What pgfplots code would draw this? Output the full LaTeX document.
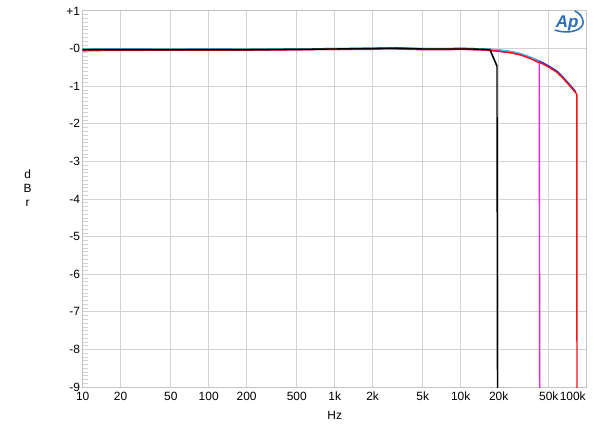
\documentclass[border=0pt]{standalone}
\usepackage{pgfplots}
\pgfplotsset{compat=1.18}
\usepackage{fontspec}
\setmainfont{Liberation Sans}
\definecolor{gridgray}{HTML}{D2D2D2}
\definecolor{framegray}{HTML}{C4C4C4}
\definecolor{apblue}{HTML}{2A6DB5}
\definecolor{cgreen}{HTML}{1E9E3C}
\definecolor{ccyan}{HTML}{22D8E8}
\definecolor{cblue}{HTML}{1A2BE0}
\definecolor{cmag}{HTML}{F020E8}
\definecolor{cred}{HTML}{FF1010}
\begin{document}
\fontsize{12}{14}\selectfont
\begin{tikzpicture}[x=1bp,y=1bp]
\useasboundingbox (-82.7,-41) rectangle (517.3,387);
\begin{axis}[
  at={(0,0)}, anchor=south west,
  scale only axis, width=504bp, height=376bp,
  xmode=log, xmin=10, xmax=100000,
  ymin=-9, ymax=1,
  xtick={10,20,50,100,200,500,1000,2000,5000,10000,20000,50000,100000},
  xticklabels={10,20,50,100,200,500,1k,2k,5k,10k,20k,50k,{100k\hspace*{28bp}}},
  ytick={-9,-8,-7,-6,-5,-4,-3,-2,-1,0,1},
  yticklabels={-9,-8,-7,-6,-5,-4,-3,-2,-1,-0,+1},
  minor y tick num=9,
  ytick pos=left,
  x tick style={draw=none},
  major y tick style={draw=none},
  minor y tick style={draw=gridgray, line width=0.6bp},
  minor tick length=5bp,
  xmajorgrids=true, xminorgrids=true, ymajorgrids=true,
  major grid style={draw=gridgray, line width=1bp},
  minor grid style={draw=gridgray, line width=1bp},
  axis line style={draw=framegray, line width=1bp},
  tick label style={font=\fontsize{12}{14}\selectfont},
  /pgf/number format/assume math mode=true,
  xticklabel style={yshift=-1bp},
  yticklabel style={xshift=1.5bp},
  xlabel={Hz},
  xlabel style={at={(axis description cs:0.5,0)}, anchor=center, yshift=-28bp, font=\fontsize{12}{14}\selectfont},
  ylabel={d\\B\\r},
  ylabel style={at={(axis description cs:0,0.5)}, rotate=-90, anchor=center, align=center, xshift=-55bp, yshift=11bp, font=\fontsize{12}{14}\selectfont},
  every axis plot/.append style={line width=1.4bp, line join=round},
]
% blue
\addplot[cblue] coordinates {
(10,-0.02) (15,-0.01) (20,-0.01) (50,-0.02) (100,-0.01) (200,-0.02) (500,-0.01) (1000,0.0)
(2000,0.01) (2500,0.02) (3000,0.02) (5000,0.0) (8000,0.0) (10000,0.01) (12000,0.0) (15000,-0.01)
(17000,-0.02) (20000,-0.04) (25000,-0.08) (30000,-0.14) (35000,-0.22) (40000,-0.30) (45000,-0.38)
(51000,-0.48) (58000,-0.60) (64500,-0.75) (72000,-0.93) (82000,-1.15)};
% cyan
\addplot[ccyan] coordinates {
(10,-0.02) (20,-0.02) (50,-0.02) (100,-0.02) (200,-0.02) (500,-0.01) (1000,0.0)
(2000,0.01) (2500,0.02) (3000,0.01) (5000,0.0) (8000,-0.01) (10000,0.0) (12000,0.0) (15000,-0.01)
(17000,-0.02) (20000,-0.035) (25000,-0.08) (30000,-0.14) (35000,-0.22) (40000,-0.31) (42000,-0.35)};
% green
\addplot[cgreen] coordinates {
(10,-0.02) (15,-0.02) (20,-0.02) (50,-0.02) (100,-0.02) (200,-0.02) (500,-0.02) (1000,-0.01)
(2000,0.0) (2500,0.01) (3000,0.01) (5000,-0.01) (8000,-0.01) (10000,0.0) (12000,-0.01) (15000,-0.02)
(17000,-0.03) (19400,-0.45)};
% magenta
\addplot[cmag] coordinates {
(10,-0.06) (15,-0.05) (20,-0.05) (50,-0.04) (100,-0.04) (200,-0.04) (500,-0.03) (1000,-0.02)
(2000,-0.02) (2500,-0.01) (3000,-0.01) (5000,-0.03) (8000,-0.03) (10000,-0.02) (12000,-0.03) (15000,-0.04)
(17000,-0.05) (20000,-0.07) (25000,-0.11) (30000,-0.17) (35000,-0.25) (40000,-0.34) (42000,-0.38) (42400,-10)};
% red
\addplot[cred] coordinates {
(10,-0.05) (15,-0.04) (20,-0.04) (50,-0.04) (100,-0.04) (200,-0.04) (500,-0.03) (1000,-0.02)
(2000,-0.01) (2500,0.0) (3000,0.0) (5000,-0.02) (8000,-0.02) (10000,-0.01) (12000,-0.02) (15000,-0.03)
(17000,-0.05) (20000,-0.07) (25000,-0.11) (30000,-0.17) (35000,-0.25) (40000,-0.34) (45000,-0.41)
(51000,-0.51) (58000,-0.63) (64500,-0.78) (72000,-0.96) (82000,-1.18) (83500,-1.22) (83700,-10)};
% black
\addplot[black] coordinates {
(10,-0.03) (15,-0.03) (20,-0.03) (50,-0.03) (100,-0.03) (200,-0.03) (500,-0.02) (1000,-0.01)
(2000,0.0) (2500,0.01) (3000,0.01) (5000,-0.01) (8000,-0.01) (10000,-0.01) (12000,-0.01) (15000,-0.02)
(17100,-0.03) (19400,-0.47) (19600,-10)};
\end{axis}
% Ap logo
\node[text=apblue, font=\fontsize{17}{17}\selectfont\bfseries\itshape, inner sep=0pt] at (484.5,363.5) {Ap};
\draw[apblue, line width=1.5bp] (472,357) .. controls (486,352) and (501,357) .. (500.5,365) .. controls (500,370) and (497,374) .. (492,376);
\end{tikzpicture}
\end{document}
